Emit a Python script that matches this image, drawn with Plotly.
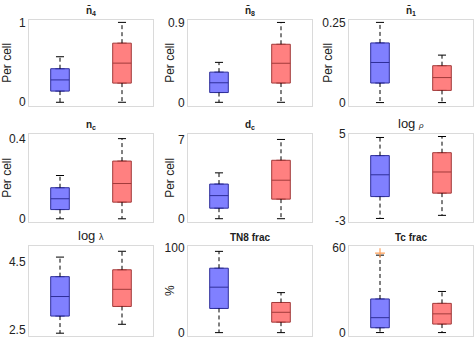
import plotly.graph_objects as go

W, H = 474, 345

panel_titles = ["<b>n̄<sub>4</sub></b>", "<b>n̄<sub>8</sub></b>", "<b>n̄<sub>1</sub></b>",
                "<b>n<sub>c</sub></b>", "<b>d<sub>c</sub></b>",
                "log <i><span style='font-size:8px'>ρ</span></i>",
                "log <span style='font-size:9px'>λ</span>", "<b>TN8 frac</b>", "<b>Tc frac</b>"]
y_titles = ["Per cell", "Per cell", "Per cell", "Per cell", "Per cell", "", "", "%", ""]
tick_vals = [[0, 1], [0, 0.9], [0, 0.25], [0, 0.4], [0, 7], [-3, 5], [2.5, 4.5], [0, 100], [0, 60]]
tick_text = [["0", "1"], ["0", "0.9"], ["0", "0.25"], ["0", "0.4"], ["0", "7"], ["-3", "5"],
             ["2.5", "4.5"], ["0", "100"], ["0", "60"]]
y_ranges = [[-0.048, 1.036], [-0.043, 0.933], [-0.011, 0.259], [-0.014, 0.423], [-0.255, 7.48],
            [-3.12, 5.0], [2.325, 4.964], [-4.1, 102.2], [-2.5, 61.3]]

blue_lo = [0, 0, 0, 0, 0, -2.83, 2.41, 0, 0]
blue_q1 = [0.14, 0.11, 0.061, 0.046, 0.93, -0.8, 2.91, 28.4, 3.4]
blue_med = [0.28, 0.22, 0.125, 0.10, 2.04, 1.22, 3.48, 53.4, 10.5]
blue_q3 = [0.42, 0.34, 0.186, 0.155, 3.06, 3.0, 4.06, 75.7, 23.7]
blue_hi = [0.57, 0.45, 0.25, 0.216, 4.05, 4.68, 4.63, 95.5, 54.6]

red_lo = [0, 0, 0, 0, 0, -2.54, 2.67, 0, 0]
red_q1 = [0.24, 0.217, 0.038, 0.083, 1.73, -0.48, 3.19, 12.3, 6.0]
red_med = [0.49, 0.44, 0.078, 0.176, 3.4, 1.48, 3.69, 23.9, 13.2]
red_q3 = [0.74, 0.654, 0.115, 0.288, 5.16, 3.27, 4.26, 35.4, 20.6]
red_hi = [1.0, 0.9, 0.148, 0.4, 7.0, 4.77, 4.8, 47, 29]

# outliers: (panel index, group position, value)
outliers = [(8, 1, 56)]

groups = [
    dict(pos=1, lo=blue_lo, q1=blue_q1, med=blue_med, q3=blue_q3, hi=blue_hi,
         fill="#8080FF", line="#2E2E9A"),
    dict(pos=2, lo=red_lo, q1=red_q1, med=red_med, q3=red_q3, hi=red_hi,
         fill="#FF8080", line="#A23A3A"),
]

col_px = [(29, 153), (188, 312), (349, 473)]
row_px = [(13, 103), (132, 223), (248, 342)]
ytitle_x = [7, 170, 328]

def fx(p):
    return p / W

def fy(p):
    return 1 - p / H

fig = go.Figure()
layout = dict(width=W, height=H, margin=dict(l=0, r=0, t=0, b=0),
              paper_bgcolor="white", plot_bgcolor="white", showlegend=False,
              boxmode="overlay", annotations=[],
              font=dict(family="Liberation Sans, Arial", color="#222222"))

CAP = 0.065
for i in range(9):
    r, c = divmod(i, 3)
    xa = "x" if i == 0 else f"x{i+1}"
    ya = "y" if i == 0 else f"y{i+1}"
    xkey = "xaxis" if i == 0 else f"xaxis{i+1}"
    ykey = "yaxis" if i == 0 else f"yaxis{i+1}"
    x0, x1 = col_px[c]
    y0, y1 = row_px[r]
    layout[xkey] = dict(domain=[fx(x0), fx(x1)], range=[0.5, 2.5], anchor=ya,
                        showticklabels=False, ticks="", showgrid=False, zeroline=False,
                        showline=True, mirror=True, linecolor="#DADADA", linewidth=1)
    layout[ykey] = dict(domain=[fy(y1), fy(y0)], range=y_ranges[i], anchor=xa,
                        tickvals=tick_vals[i], ticktext=tick_text[i], ticks="",
                        tickfont=dict(size=12, color="#222222"),
                        showgrid=False, zeroline=False,
                        showline=True, mirror=True, linecolor="#DADADA", linewidth=1)
    for g in groups:
        p = g["pos"]
        fig.add_trace(go.Box(x=[p], q1=[g["q1"][i]], median=[g["med"][i]], q3=[g["q3"][i]],
                             lowerfence=[g["q1"][i]], upperfence=[g["q3"][i]],
                             width=0.3, fillcolor=g["fill"], line=dict(color=g["line"], width=1),
                             boxpoints=False, xaxis=xa, yaxis=ya, hoverinfo="skip"))
        fig.add_trace(go.Scatter(x=[p, p, None, p, p],
                                 y=[g["q3"][i], g["hi"][i], None, g["q1"][i], g["lo"][i]],
                                 mode="lines", line=dict(color="black", width=1, dash="4px,3px"),
                                 xaxis=xa, yaxis=ya, hoverinfo="skip"))
        fig.add_trace(go.Scatter(x=[p - CAP, p + CAP, None, p - CAP, p + CAP],
                                 y=[g["hi"][i], g["hi"][i], None, g["lo"][i], g["lo"][i]],
                                 mode="lines", line=dict(color="black", width=1),
                                 xaxis=xa, yaxis=ya, hoverinfo="skip"))
    for (pi, pos, val) in outliers:
        if pi == i:
            fig.add_trace(go.Scatter(x=[pos], y=[val], mode="markers",
                                     marker=dict(symbol="cross-thin-open", size=7,
                                                 line=dict(color="red", width=1.2)),
                                     xaxis=xa, yaxis=ya, hoverinfo="skip"))
    layout["annotations"].append(dict(
        x=fx((x0 + x1) / 2), y=fy(y0 - 1), xref="paper", yref="paper",
        text=panel_titles[i], showarrow=False, xanchor="center", yanchor="bottom",
        font=dict(size=10 if "<b>" in panel_titles[i] else 13, color="#222222")))
    if y_titles[i]:
        layout["annotations"].append(dict(
            x=fx(ytitle_x[c]), y=fy((y0 + y1) / 2), xref="paper", yref="paper",
            text=y_titles[i], showarrow=False, textangle=-90,
            xanchor="center", yanchor="middle",
            font=dict(size=12, color="#222222")))

fig.update_layout(**layout)
fig.write_html("out.html")
